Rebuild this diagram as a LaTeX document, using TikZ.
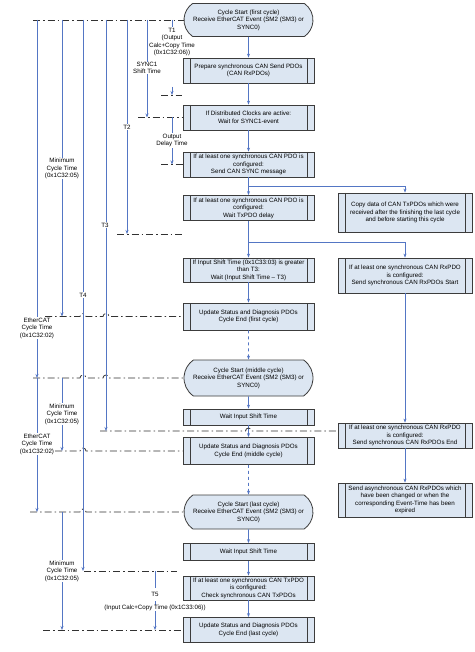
\documentclass[tikz,border=0pt]{standalone}
\usepackage{fontspec}
\setmainfont{Liberation Sans}
\usetikzlibrary{arrows.meta,shapes.misc,calc}
\definecolor{boxfill}{RGB}{220,230,242}
\definecolor{boxline}{RGB}{60,60,60}
\definecolor{flow}{RGB}{84,118,196}
\definecolor{timing}{RGB}{50,50,50}
\tikzset{
  every node/.style={font=\fontsize{6.2}{7.5}\selectfont, align=center},
  proc/.style={draw=boxline, fill=boxfill, line width=0.8pt, minimum width=131pt, inner sep=1pt,
    path picture={\draw[boxline, line width=0.8pt]
      ([xshift=7pt]path picture bounding box.north west) -- ([xshift=7pt]path picture bounding box.south west)
      ([xshift=-7pt]path picture bounding box.north east) -- ([xshift=-7pt]path picture bounding box.south east);}},
  wide/.style={proc, minimum width=134pt},
  term/.style={draw=boxline, fill=boxfill, line width=0.8pt, rounded rectangle, rounded rectangle arc length=110,
    minimum width=131pt, inner sep=1pt},
  flowarr/.style={flow, line width=0.7pt, -{Stealth[length=4pt,width=3pt]}},
  timeline/.style={flow, line width=0.7pt, -{Stealth[length=4pt,width=3pt]}},
  dashdot/.style={timing, line width=0.8pt, dash pattern=on 7pt off 3pt on 1.5pt off 3pt},
  lbl/.style={fill=white, inner sep=0.5pt}
}
\begin{document}
\begin{tikzpicture}[x=1pt, y=-1pt]
\useasboundingbox (0,0) rectangle (474,652);
\fill[white] (0,0) rectangle (474,652);

\node[term, minimum height=33pt] (cs1) at (248.5,20) {Cycle Start (first cycle)\\Receive EtherCAT Event (SM2 (SM3) or\\SYNC0)};
\node[proc, minimum height=25pt] (prep) at (248.5,70.5) {Prepare synchronous CAN Send PDOs\\(CAN RxPDOs)};
\node[proc, minimum height=25pt] (dc) at (248.5,117.5) {If Distributed Clocks are active:\\Wait for SYNC1-event};
\node[proc, minimum height=25pt] (sync) at (248.5,164.5) {If at least one synchronous CAN PDO is\\configured:\\Send CAN SYNC message};
\node[proc, minimum height=25pt] (txd) at (248.5,208) {If at least one synchronous CAN PDO is\\configured:\\Wait TxPDO delay};
\node[proc, minimum height=24pt] (ishift) at (248.5,270) {If Input Shift Time (0x1C33:03) is greater\\than T3:\\Wait (Input Shift Time -- T3)};
\node[proc, minimum height=27pt] (upd1) at (248.5,316.5) {Update Status and Diagnosis PDOs\\Cycle End (first cycle)};
\node[term, minimum height=36pt] (cs2) at (248.5,378) {Cycle Start (middle cycle)\\Receive EtherCAT Event (SM2 (SM3) or\\SYNC0)};
\node[proc, minimum height=16pt] (wis2) at (248.5,417) {Wait Input Shift Time};
\node[proc, minimum height=27pt] (upd2) at (248.5,451) {Update Status and Diagnosis PDOs\\Cycle End (middle cycle)};
\node[term, minimum height=34pt] (cs3) at (248.5,512) {Cycle Start (last cycle)\\Receive EtherCAT Event (SM2 (SM3) or\\SYNC0)};
\node[proc, minimum height=17pt] (wis3) at (248.5,552) {Wait Input Shift Time};
\node[proc, minimum height=24pt] (chk) at (248.5,588) {If at least one synchronous CAN TxPDO\\is configured:\\Check synchronous CAN TxPDOs};
\node[proc, minimum height=25pt] (upd3) at (248.5,630) {Update Status and Diagnosis PDOs\\Cycle End (last cycle)};

\node[wide, minimum height=39pt] (copy) at (405,212.5) {Copy data of CAN TxPDOs which were\\received after the finishing the last cycle\\and before starting this cycle};
\node[wide, minimum height=35pt] (rxs) at (405,275.5) {If at least one synchronous CAN RxPDO\\is configured:\\Send synchronous CAN RxPDOs Start};
\node[wide, minimum height=25pt] (rxe) at (405,435.5) {If at least one synchronous CAN RxPDO\\is configured:\\Send synchronous CAN RxPDOs End};
\node[wide, minimum height=34pt] (async) at (405,500) {Send asynchronous CAN RxPDOs which\\have been changed or when the\\corresponding Event-Time has been\\expired};

\foreach \a/\b in {cs1/prep, prep/dc, dc/sync, sync/txd, txd/ishift, ishift/upd1, cs2/wis2, wis2/upd2, cs3/wis3, wis3/chk, chk/upd3, rxs/rxe, rxe/async}
  \draw[flowarr] (\a) -- (\b);
\draw[flowarr, dashed] (upd1) -- (cs2);
\draw[flowarr, dashed] (upd2) -- (cs3);
\draw[flowarr] ($(sync.south)!0.5!(txd.north)$) -| (copy);
\draw[flowarr] ($(txd.south)!0.58!(ishift.north)$) -| (rxs);

\draw[dashdot] (33,20) -- (cs1.west);
\draw[dashdot] (161,95) -- (182,95);
\draw[dashdot] (138,117.5) -- (dc.west);
\draw[dashdot] (161,164.5) -- (sync.west);
\draw[dashdot] (117,234) -- (182,234);
\draw[dashdot] (45,316.5) -- (80,316.5) arc[start angle=180, end angle=0, radius=3pt] -- (103,316.5) arc[start angle=180, end angle=0, radius=3pt] -- (upd1.west);
\draw[dashdot] (33,378) -- (80,378) arc[start angle=180, end angle=0, radius=3pt] -- (103,378) arc[start angle=180, end angle=0, radius=3pt] -- (cs2.west);
\draw[dashdot] (100,431) -- (245.5,431) arc[start angle=180, end angle=0, radius=3pt] -- (rxe.west |- 0,431);
\draw[dashdot] (55,451) -- (80,451) arc[start angle=180, end angle=0, radius=3pt] -- (upd2.west);
\draw[dashdot] (30,512) -- (80,512) arc[start angle=180, end angle=0, radius=3pt] -- (cs3.west);
\draw[dashdot] (84,571) -- (177,571);
\draw[dashdot] (43,630) -- (upd3.west);

\draw[timeline] (37,20) -- (37,378);
\draw[timeline] (62,20) -- (62,316.5);
\draw[timeline] (83,20) -- (83,571);
\draw[timeline] (106,20) -- (106,431);
\draw[timeline] (127,20) -- (127,234);
\draw[timeline] (147,20) -- (147,117.5);
\draw[timeline] (172,117.5) -- (172,164.5);
\draw[timeline] (172,87) -- (172,95);
\draw[timeline] (62,378) -- (62,451);
\draw[timeline] (37,378) -- (37,512);
\draw[timeline] (62,512) -- (62,630);
\draw[timeline] (155,571) -- (155,630);

\node[lbl] (ect1) at (37,328) {EtherCAT\\Cycle Time\\(0x1C32:02)};
\node[lbl] (mct1) at (62,168.5) {Minimum\\Cycle Time\\(0x1C32:05)};
\node[lbl] (t4) at (83,295) {T4};
\node[lbl] (t3) at (105,225) {T3};
\node[lbl] (t2) at (127,127) {T2};
\node[lbl] (sst) at (147,68) {SYNC1\\Shift Time};
\node[inner sep=0.5pt] (t1) at (172,42) {T1\\(Output\\Calc+Copy Time\\(0x1C32:06))};
\draw[flow, line width=0.7pt] (172,20) -- (t1.north);
\node[lbl] (odt) at (172,140.5) {Output\\Delay Time};
\node[lbl] (mct2) at (62,414) {Minimum\\Cycle Time\\(0x1C32:05)};
\node[lbl] (ect2) at (37,444) {EtherCAT\\Cycle Time\\(0x1C32:02)};
\node[lbl] (mct3) at (62,571) {Minimum\\Cycle Time\\(0x1C32:05)};
\node[lbl, minimum height=13pt] (t5) at (155,594) {T5};
\node[lbl] (icct) at (155,608) {(Input Calc+Copy Time (0x1C33:06))};
\end{tikzpicture}
\end{document}
